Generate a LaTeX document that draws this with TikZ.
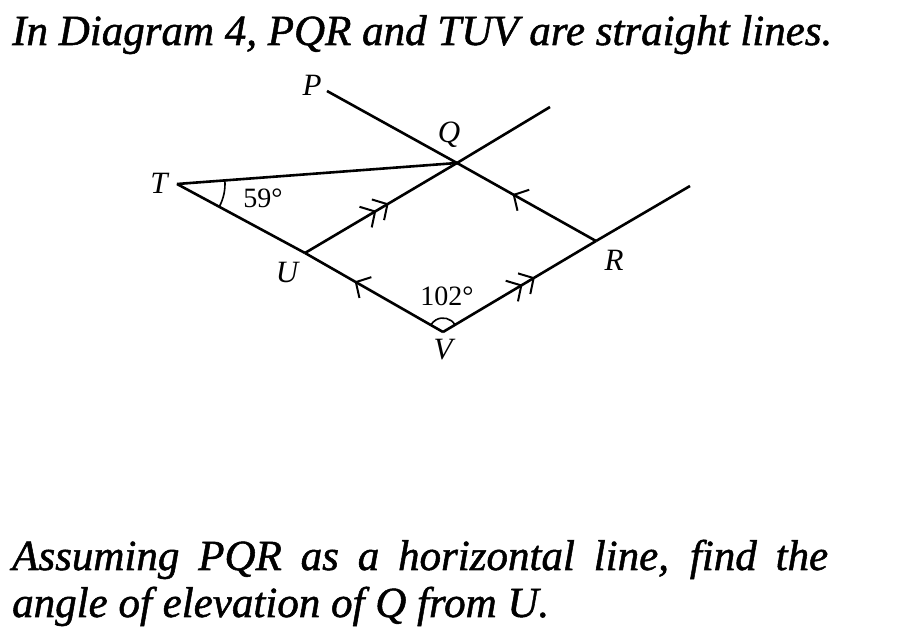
\documentclass[tikz,border=0pt]{standalone}
\usepackage{fontspec}
\setmainfont{Liberation Serif}
\newfontfamily\qfont[FakeBold=1.2]{Liberation Serif}
\usetikzlibrary{arrows.meta,decorations.markings,angles}

\tikzset{
  geoline/.style={line width=2.6pt},
  onemark/.style={postaction={decorate},decoration={markings,
      mark=at position #1 with {\arrow{Straight Barb[length=11pt,width=24pt,line width=2pt]}}}},
  twomark/.style={postaction={decorate},decoration={markings,
      mark=at position #1 with {\arrow{Straight Barb[length=11pt,width=24pt,line width=2pt,sep=1pt]Straight Barb[length=11pt,width=24pt,line width=2pt]}}}},
  ptlabel/.style={font=\fontsize{31}{34}\selectfont\itshape},
  anglabel/.style={font=\fontsize{28}{30}\selectfont},
  question/.style={font=\fontsize{43}{48}\selectfont\qfont\itshape,anchor=base west,inner sep=0pt}
}

\begin{document}
\begin{tikzpicture}[x=1pt,y=1pt]
  \useasboundingbox (0,0) rectangle (906,635);
  % points of the figure
  \coordinate (P) at (327,544);
  \coordinate (Q) at (457,472);
  \coordinate (Qend) at (550,528);
  \coordinate (T) at (177,451);
  \coordinate (U) at (305,382);
  \coordinate (V) at (443,303);
  \coordinate (R) at (596,394);
  \coordinate (Rend) at (690,449);

  % straight lines
  \draw[geoline] (P) -- (Q);
  \draw[geoline,onemark=0.6] (R) -- (Q);
  \draw[geoline] (T) -- (U);
  \draw[geoline,onemark=0.64] (V) -- (U);
  \draw[geoline] (T) -- (Q);
  \draw[geoline,twomark=0.55] (U) -- (Q);
  \draw[geoline] (Q) -- (Qend);
  \draw[geoline,twomark=0.6] (V) -- (R);
  \draw[geoline] (R) -- (Rend);

  % angles
  \pic[draw,line width=1.6pt,angle radius=48pt] {angle=U--T--Q};
  \pic[draw,line width=1.6pt,angle radius=14pt] {angle=R--V--U};

  % labels
  \node[ptlabel] (labP) at (312,550) {P};
  \node[ptlabel] (labQ) at (449,500) {Q};
  \node[ptlabel] (labT) at (159,452) {T};
  \node[ptlabel] (labU) at (287,362) {U};
  \node[ptlabel] (labV) at (443,285) {V};
  \node[ptlabel] (labR) at (614,375) {R};
  \node[anglabel] (angT) at (263,437) {59°};
  \node[anglabel] (angV) at (447,339) {102°};

  % question text
  \node[question] (head) at (12,590) {In Diagram 4, PQR and TUV are straight lines.};
  \node[question] (ask1) at (12,65) {\makebox[816pt][s]{Assuming PQR as a horizontal line, find the}};
  \node[question] (ask2) at (12,18) {angle of elevation of Q from U.};
\end{tikzpicture}
\end{document}
